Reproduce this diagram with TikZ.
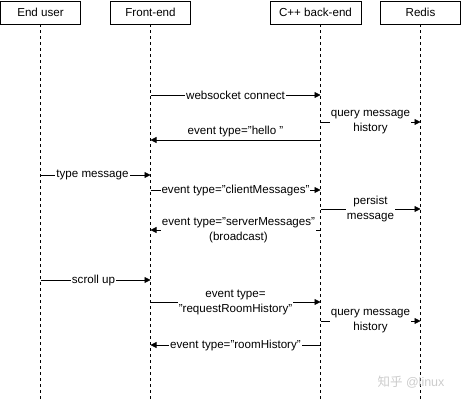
\documentclass[tikz,border=0pt]{standalone}
\usepackage{fontspec}
\setmainfont{Liberation Sans}
\newfontfamily\cjkfont{Noto Sans CJK SC}
\usetikzlibrary{arrows.meta}
\begin{document}
\begin{tikzpicture}[x=1pt,y=-1pt,
  every node/.style={font=\fontsize{11.6}{15}\selectfont},
  actor/.style={draw,line width=0.8pt,minimum width=80pt,minimum height=23pt,inner sep=0pt},
  life/.style={dashed,line width=0.6pt,dash pattern=on 3pt off 3pt},
  msg/.style={line width=0.8pt,-{Triangle[length=6pt,width=6pt]}},
  lbl/.style={fill=white,inner sep=1pt,align=center}]
\useasboundingbox (0,0) rectangle (461,402);
\node[actor] (eu) at (40.5,12.5) {End user};
\node[actor] (fe) at (150.5,12.5) {Front-end};
\node[actor,minimum width=91pt] (be) at (315.5,12.5) {C++ back-end};
\node[actor] (rd) at (420.5,12.5) {Redis};
\coordinate (euE) at (40.5,402);
\coordinate (feE) at (150.5,402);
\coordinate (beE) at (320.5,402);
\coordinate (rdE) at (420.5,402);
\draw[life] (eu.south) -- (euE);
\draw[life] (fe.south) -- (feE);
\draw[life] (be.south -| beE) -- (beE);
\draw[life] (rd.south) -- (rdE);
% messages
\coordinate (a1) at (150.5,95); \coordinate (b1) at (320.5,95);
\draw[msg] (a1) -- node[lbl]{websocket connect} (b1);
\coordinate (a2) at (320.5,122); \coordinate (b2) at (420.5,122);
\draw[msg] (a2) -- node[lbl]{query message\\history} (b2);
\coordinate (a3) at (320.5,140); \coordinate (b3) at (150.5,140);
\draw[msg] (a3) -- node[lbl,above=2pt,fill=none]{event type="hello "} (b3);
\coordinate (a4) at (40.5,175); \coordinate (b4) at (150.5,175);
\draw[msg] (a4) -- node[lbl,xshift=-3pt]{type message} (b4);
\coordinate (a5) at (150.5,190); \coordinate (b5) at (320.5,190);
\draw[msg] (a5) -- node[lbl]{event type="clientMessages"} (b5);
\coordinate (a6) at (320.5,209); \coordinate (b6) at (420.5,209);
\draw[msg] (a6) -- node[lbl]{persist\\message} (b6);
\coordinate (a7) at (320.5,230); \coordinate (b7) at (150.5,230);
\draw[msg] (a7) -- node[lbl,xshift=3pt]{event type="serverMessages"\\(broadcast)} (b7);
\coordinate (a8) at (40.5,280); \coordinate (b8) at (150.5,280);
\draw[msg] (a8) -- node[lbl,xshift=-2pt]{scroll up} (b8);
\coordinate (a9) at (150.5,302); \coordinate (b9) at (320.5,302);
\draw[msg] (a9) -- node[lbl]{event type=\\"requestRoomHistory"} (b9);
\coordinate (a10) at (320.5,321); \coordinate (b10) at (420.5,321);
\draw[msg] (a10) -- node[lbl]{query message\\history} (b10);
\coordinate (a11) at (320.5,345); \coordinate (b11) at (150.5,345);
\draw[msg] (a11) -- node[lbl]{event type="roomHistory"} (b11);
\node[text=black!20,font=\fontsize{12.5}{14}\selectfont] (wm) at (411,382) {{\cjkfont 知乎} @linux};
\end{tikzpicture}
\end{document}
